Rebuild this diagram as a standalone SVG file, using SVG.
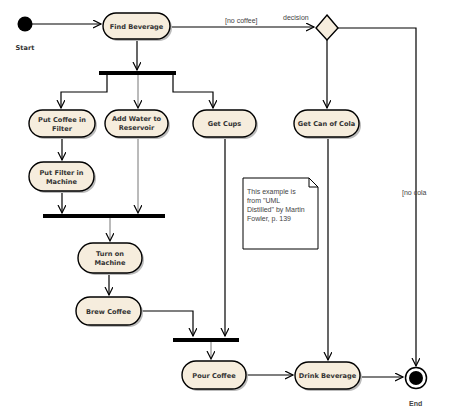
<svg xmlns="http://www.w3.org/2000/svg" width="474" height="411" viewBox="0 0 474 411">
<style>
.n rect.b{fill:#F6EDDD;stroke:#000;stroke-width:1.4}
.n rect.s{fill:#bbb;stroke:none}
.t{font-family:"DejaVu Sans","Liberation Sans",sans-serif;font-size:6.6px;font-weight:bold;fill:#333;text-anchor:middle}
.l{font-family:"Liberation Sans",sans-serif;font-size:7px;fill:#444}
.c{fill:none;stroke:#000;stroke-width:1.2}
.g{fill:none;stroke:#777;stroke-width:1}
.bar{fill:#000}
</style>
<defs>
<marker id="a" markerWidth="10" markerHeight="10" refX="8" refY="4" orient="auto" markerUnits="userSpaceOnUse">
<path d="M0,0 L8,4 L0,8" fill="none" stroke="#000" stroke-width="1.2"/>
</marker>
</defs>
<rect width="474" height="411" fill="#fff"/>
<g id="connectors">
<path class="c" d="M32,24 H101" marker-end="url(#a)"/>
<path class="c" d="M170,27 H314" marker-end="url(#a)"/>
<path class="c" d="M338,28 H416 V366" marker-end="url(#a)"/>
<path class="c" d="M327,40 V108" marker-end="url(#a)"/>
<path class="c" d="M137,39 V70" marker-end="url(#a)"/>
<path class="c" d="M107,75 V92 H61 V108" marker-end="url(#a)"/>
<path class="g" d="M138,75 V108" marker-end="url(#a)"/>
<path class="c" d="M173,75 V92 H213 V108" marker-end="url(#a)"/>
<path class="c" d="M62,137 V160" marker-end="url(#a)"/>
<path class="c" d="M62,191 V213" marker-end="url(#a)"/>
<path class="g" d="M138,137 V213" marker-end="url(#a)"/>
<path class="g" d="M110,218 V241" marker-end="url(#a)"/>
<path class="c" d="M109,273 V295" marker-end="url(#a)"/>
<path class="c" d="M141,311 H193 V336" marker-end="url(#a)"/>
<path class="c" d="M225,137 V336" marker-end="url(#a)" stroke-width="1.6"/>
<path class="g" d="M211,342 V359" marker-end="url(#a)"/>
<path class="c" d="M246,375 H293" marker-end="url(#a)"/>
<path class="c" d="M328,137 V360" marker-end="url(#a)"/>
<path class="c" d="M360,377 H403" marker-end="url(#a)"/>
</g>
<text class="l" x="225" y="23">[no coffee]</text>
<text class="l" x="283" y="20">decision</text>
<text class="l" x="402" y="195">[no cola</text>
<g id="start">
<circle cx="25" cy="24" r="7.5" fill="#000"/>
<text class="t" x="25" y="50">Start</text>
</g>
<g id="end">
<circle cx="416" cy="378" r="10.5" fill="#fff" stroke="#000" stroke-width="1.5"/>
<circle cx="416" cy="378" r="7" fill="#000"/>
<text class="l" x="409" y="406" font-weight="bold" font-size="6.5">End</text>
</g>
<g id="decision">
<polygon points="327,15 338,28 327,40 316,28" fill="#F6EDDD" stroke="#000" stroke-width="1.4"/>
</g>
<g id="fork1"><rect class="bar" x="99" y="71" width="77" height="4"/></g>
<g id="join1"><rect class="bar" x="43" y="214" width="122" height="4"/></g>
<g id="join2"><rect class="bar" x="173" y="338" width="66" height="4"/></g>
<g id="findBeverage" class="n">
<rect class="s" x="105" y="15" width="67" height="26" rx="13"/>
<rect class="b" x="103" y="13" width="67" height="26" rx="13"/>
<text class="t" x="136.5" y="28.5">Find Beverage</text>
</g>
<g id="putCoffee" class="n">
<rect class="s" x="31" y="112" width="66" height="27" rx="13.5"/>
<rect class="b" x="29" y="110" width="66" height="27" rx="13.5"/>
<text class="t" x="62" y="122">Put Coffee in</text>
<text class="t" x="62" y="131">Filter</text>
</g>
<g id="addWater" class="n">
<rect class="s" x="107" y="112" width="63" height="27" rx="13.5"/>
<rect class="b" x="105" y="110" width="63" height="27" rx="13.5"/>
<text class="t" x="136.5" y="121">Add Water to</text>
<text class="t" x="136.5" y="130">Reservoir</text>
</g>
<g id="getCups" class="n">
<rect class="s" x="195" y="112" width="63" height="27" rx="13.5"/>
<rect class="b" x="193" y="110" width="63" height="27" rx="13.5"/>
<text class="t" x="224.5" y="126">Get Cups</text>
</g>
<g id="getCola" class="n">
<rect class="s" x="296" y="112" width="65" height="27" rx="13.5"/>
<rect class="b" x="294" y="110" width="65" height="27" rx="13.5"/>
<text class="t" x="326.5" y="126">Get Can of Cola</text>
</g>
<g id="putFilter" class="n">
<rect class="s" x="31" y="164" width="65" height="29" rx="14.5"/>
<rect class="b" x="29" y="162" width="65" height="29" rx="14.5"/>
<text class="t" x="61.5" y="174.5">Put Filter in</text>
<text class="t" x="61.5" y="183.5">Machine</text>
</g>
<g id="turnOn" class="n">
<rect class="s" x="80" y="245" width="64" height="30" rx="15"/>
<rect class="b" x="78" y="243" width="64" height="30" rx="15"/>
<text class="t" x="110" y="256">Turn on</text>
<text class="t" x="110" y="265">Machine</text>
</g>
<g id="brewCoffee" class="n">
<rect class="s" x="78" y="299" width="65" height="28" rx="14"/>
<rect class="b" x="76" y="297" width="65" height="28" rx="14"/>
<text class="t" x="108.5" y="313.5">Brew Coffee</text>
</g>
<g id="pourCoffee" class="n">
<rect class="s" x="184" y="363" width="64" height="28" rx="14"/>
<rect class="b" x="182" y="361" width="64" height="28" rx="14"/>
<text class="t" x="214" y="377.5">Pour Coffee</text>
</g>
<g id="drinkBeverage" class="n">
<rect class="s" x="297" y="364" width="65" height="27" rx="13.5"/>
<rect class="b" x="295" y="362" width="65" height="27" rx="13.5"/>
<text class="t" x="327.5" y="377.5">Drink Beverage</text>
</g>
<g id="note">
<path d="M243,178 H309 L318,187 V249 H243 Z" fill="#fff" stroke="#000" stroke-width="1"/>
<path d="M309,178 V187 H318" fill="none" stroke="#000" stroke-width="1"/>
<text class="l" x="247" y="194">This example is</text>
<text class="l" x="247" y="203">from "UML</text>
<text class="l" x="247" y="212">Distilled" by Martin</text>
<text class="l" x="247" y="221">Fowler,  p. 139</text>
</g>
</svg>
